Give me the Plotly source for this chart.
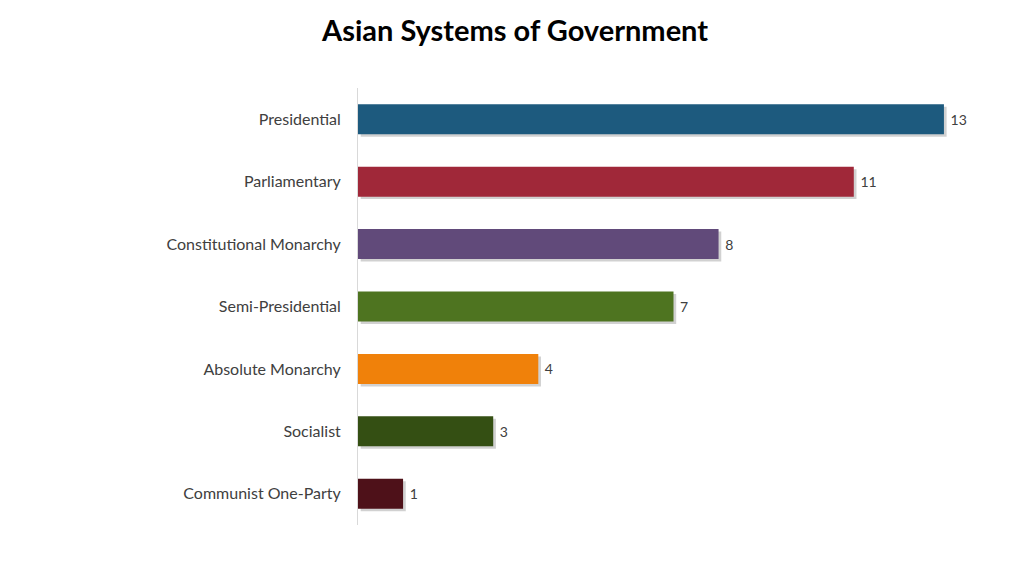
import plotly.graph_objects as go

categories = ["Presidential", "Parliamentary", "Constitutional Monarchy",
              "Semi-Presidential", "Absolute Monarchy", "Socialist", "Communist One-Party"]
values = [13, 11, 8, 7, 4, 3, 1]
colors = ["#1D5A7E", "#A02839", "#614A7A", "#4E7420", "#F0810A", "#344F13", "#4E1119"]

fig = go.Figure()
# soft drop shadow
fig.add_trace(go.Bar(
    y=categories, x=values, orientation="h",
    base=0.06, offset=-0.28, width=0.48,
    marker=dict(color="rgba(0,0,0,0.18)", line=dict(width=0)),
    hoverinfo="skip", showlegend=False,
))
fig.add_trace(go.Bar(
    y=categories, x=values, orientation="h",
    offset=-0.24, width=0.48,
    marker=dict(color=colors, line=dict(width=0)),
    text=[str(v) for v in values], texttemplate=" %{text}", textposition="outside",
    textfont=dict(family="Lato, sans-serif", size=14, color="#404040"),
    cliponaxis=False, showlegend=False,
))

fig.update_layout(
    width=1024, height=563,
    margin=dict(l=358, r=35, t=88, b=38),
    paper_bgcolor="white", plot_bgcolor="white",
    barmode="overlay",
    title=dict(text="<b>Asian Systems of Government</b>", x=0.503, xanchor="center",
               y=0.945, yanchor="middle",
               font=dict(family="Lato, sans-serif", size=29, color="#000000")),
    xaxis=dict(range=[0, 14], showgrid=False, showticklabels=False, zeroline=False,
               showline=False, ticks=""),
    yaxis=dict(categoryorder="array", categoryarray=categories[::-1],
               showgrid=False, zeroline=False, showline=True, linecolor="#D9D9D9",
               linewidth=1, ticks="", ticklabelstandoff=13,
               tickfont=dict(family="Lato, sans-serif", size=16, color="#404040")),
)

fig.write_html("out.html")
